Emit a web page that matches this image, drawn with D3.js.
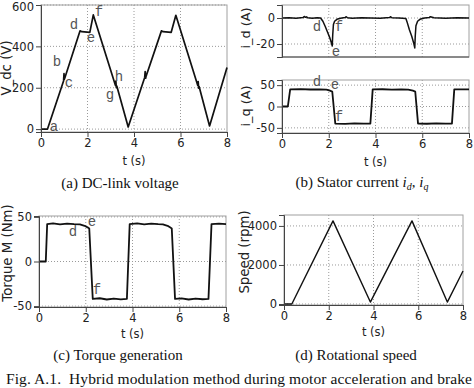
<!DOCTYPE html>
<html><head><meta charset="utf-8">
<script src="https://cdn.jsdelivr.net/npm/d3@7"></script>
<style>body{margin:0;background:#fff}svg{display:block}</style>
</head><body>
<script>
// ---- data ----
const vdcT = [0,0.28,0.97,0.99,1.0,1.02,1.68,1.75,2.1,2.25,3.2,3.22,3.24,3.26,3.75,4.46,4.48,4.5,4.52,5.18,5.25,5.6,5.8,6.74,6.76,6.78,6.8,7.25,8.0];
const vdcV = [0,0,233,268,240,246,475,471,468,552,212,232,200,208,10,250,278,246,256,475,471,468,550,212,230,198,206,15,298];

const idT = [0,0.3,0.6,0.9,0.95,1.0,1.05,1.1,1.3,1.5,1.65,1.75,1.85,1.95,2.05,2.12,2.15,2.17,2.2,2.25,2.35,2.5,2.7,2.75,2.8,3.0,3.4,3.8,4.2,4.6,4.65,4.7,5.0,5.3,5.35,5.45,5.55,5.63,5.68,5.7,5.73,5.8,5.9,6.1,6.3,6.35,6.5,7.0,7.5,8.0];
const idV = [0,0.2,-0.2,0.3,1.2,0.5,0.9,0.1,-0.2,0.2,0,-2.5,-6.5,-11,-15.5,-19.5,-21.5,-13,-5,-2.5,-1,-0.2,0.3,1.0,0.2,-0.2,0.2,0,-0.2,0.3,1.0,0.2,0,-0.3,-3,-9,-14,-19,-23,-14,-6,-2.5,-1,0,0.4,1.0,0.2,-0.2,0.1,0];

const iqT = [0,0.25,0.35,0.8,1.2,1.6,1.9,2.05,2.15,2.28,2.7,3.1,3.5,3.78,3.88,4.3,4.7,5.1,5.4,5.6,5.7,5.82,6.2,6.6,7.0,7.27,7.37,7.7,8.0];
const iqV = [0,0,40,40.5,39.8,40.3,39.5,37,35,-40,-40.5,-39.7,-40.3,-40,40,40.4,39.7,40.2,39.5,37,35,-40,-40.4,-39.6,-40.3,-40,40,40.3,40];

const tqT = [0,0.29,0.35,0.6,0.9,1.2,1.5,1.75,1.95,2.1,2.15,2.3,2.6,2.9,3.2,3.5,3.76,3.88,4.2,4.5,4.8,5.1,5.3,5.5,5.62,5.68,5.82,6.1,6.4,6.7,7.0,7.25,7.38,7.7,8.0];
const tqV = [0,0,42,42.8,41.6,42.5,41.8,41.5,40,38,37,-42,-41.2,-42.6,-41.5,-42.4,-42,42,42.7,41.6,42.5,41.8,41.5,40,38,37,-42,-41.3,-42.6,-41.5,-42.3,-42,42,42.5,42];

const spT = [0,0.35,2.19,3.86,5.72,7.3,8.0];
const spV = [0,0,4260,100,4260,100,1690];

const tTicks = [0,2,4,6,8];
const vdcTicks = [0,200,400,600];
const idTicks = [-20,0];
const iqTicks = [-50,0,50];
const tqTicks = [-50,0,50];
const spTicks = [0,2000,4000];

// ---- drawing ----
const svg = d3.select("body").append("svg").attr("width",474).attr("height",388);
const SANS = "DejaVu Sans, sans-serif";
const SERIF = "Liberation Serif, Times New Roman, serif";
const MONO = "Liberation Mono, monospace";
const fmt = d => String(d);   // plain hyphen-minus as in the original

function panel(o){
  const x = d3.scaleLinear().domain([0,8]).range([o.x0,o.x1]);
  const y = d3.scaleLinear().domain(o.yd).range([o.y1,o.y0]);
  const g = svg.append("g");
  g.selectAll(".gx").data(tTicks.filter(d=>d>0&&d<8)).join("line")
    .attr("x1",d=>x(d)).attr("x2",d=>x(d)).attr("y1",o.y0).attr("y2",o.y1)
    .attr("stroke","#9a9a9a").attr("stroke-width",1).attr("stroke-dasharray","1,2");
  g.selectAll(".gy").data(o.yt).join("line")
    .attr("x1",o.x0).attr("x2",o.x1).attr("y1",d=>y(d)).attr("y2",d=>y(d))
    .attr("stroke","#9a9a9a").attr("stroke-width",1).attr("stroke-dasharray","1,2");
  g.append("rect").attr("x",o.x0).attr("y",o.y0).attr("width",o.x1-o.x0).attr("height",o.y1-o.y0)
    .attr("fill","none").attr("stroke","#a0a0a0").attr("stroke-width",1);
  const data = o.t.map((t,i)=>[t,o.v[i]]);
  g.append("path").datum(data)
    .attr("d",d3.line().x(d=>x(d[0])).y(d=>y(d[1])))
    .attr("fill","none").attr("stroke","#111").attr("stroke-width",o.sw||1.7).attr("stroke-linejoin","round");
  const ay = g.append("g").attr("transform",`translate(${o.x0},0)`)
    .call(d3.axisLeft(y).tickValues(o.yt).tickSize(5).tickPadding(2).tickFormat(fmt));
  ay.select(".domain").attr("stroke","#444");
  ay.selectAll("line").attr("stroke","#444");
  ay.selectAll("text").attr("font-family",SANS).attr("font-size",o.fs).attr("fill","#222")
    .attr("dy",d=>(o.topdy && d===o.yt[o.yt.length-1]) ? o.topdy : "0.32em");
  if(o.xaxis){
    const ax = g.append("g").attr("transform",`translate(0,${o.y1})`)
      .call(d3.axisBottom(x).tickValues(tTicks).tickSize(5).tickPadding(2).tickFormat(fmt));
    ax.select(".domain").attr("stroke","#444");
    ax.selectAll("line").attr("stroke","#444");
    ax.selectAll("text").attr("font-family",SANS).attr("font-size",o.fs).attr("fill","#222");
    g.append("text").attr("x",(o.x0+o.x1)/2).attr("y",o.y1+o.xlab)
      .attr("text-anchor","middle").attr("font-family",SANS).attr("font-size",o.fs).attr("fill","#222").text("t (s)");
  } else {
    g.append("line").attr("x1",o.x0).attr("x2",o.x1).attr("y1",o.y1).attr("y2",o.y1).attr("stroke","#444");
  }
  g.append("text").attr("transform",`translate(${o.ylx},${o.yly}) rotate(-90)`)
    .attr("text-anchor","middle").attr("font-family",SANS).attr("font-size",o.yfs||13.3).attr("fill","#222").text(o.ylab);
  (o.ann||[]).forEach(a=>{
    g.append("text").attr("x",a[1]).attr("y",a[2]).attr("text-anchor","middle").attr("dominant-baseline","central")
      .attr("font-family",MONO).attr("font-size",14).attr("fill","#555").text(a[0]);
  });
}

panel({x0:41,x1:227,y0:5,y1:132,yd:[-14,600],yt:vdcTicks,t:vdcT,v:vdcV,fs:11.5,xaxis:true,xlab:33,
  ylab:"V_dc (V)",ylx:11,yly:68,topdy:"0.45em",
  ann:[["a",54,127],["b",57,62],["c",69,83],["d",74,25],["e",91,38],["f",99,12],["g",110,95],["h",119,77]]});
panel({x0:282,x1:469,y0:5,y1:57,yd:[-30,10],yt:idTicks,t:idT,v:idV,fs:11.5,xaxis:false,
  ylab:"i_d (A)",ylx:250,yly:28,yfs:12.8,sw:1.5,
  ann:[["d",317,27],["f",339,27],["e",336,52]]});
panel({x0:282,x1:469,y0:80,y1:133,yd:[-62,62],yt:iqTicks,t:iqT,v:iqV,fs:11.5,xaxis:true,xlab:33,
  ylab:"i_q (A)",ylx:250,yly:106,yfs:12.8,sw:1.8,
  ann:[["d",317,82],["e",335,85],["f",339,117]]});
panel({x0:39,x1:226,y0:216,y1:307,yd:[-51,51],yt:tqTicks,t:tqT,v:tqV,fs:11.5,xaxis:true,xlab:31,
  ylab:"Torque M (Nm)",ylx:12,yly:253,sw:1.8,
  ann:[["e",92,222],["d",73,232],["f",97,290]]});
panel({x0:284,x1:463,y0:215,y1:305,yd:[-50,4560],yt:spTicks,t:spT,v:spV,fs:11.5,xaxis:true,xlab:31,
  ylab:"Speed (rpm)",ylx:249,yly:252,sw:1.4});

function cap(x,y,txt){
  return svg.append("text").attr("x",x).attr("y",y).attr("text-anchor","middle")
    .attr("font-family",SERIF).attr("font-size",15).attr("fill","#111").text(txt);
}
cap(120,188,"(a) DC-link voltage");
const cb = svg.append("text").attr("x",362).attr("y",187).attr("text-anchor","middle")
  .attr("font-family",SERIF).attr("font-size",15).attr("fill","#111");
cb.append("tspan").text("(b) Stator current ");
cb.append("tspan").attr("font-style","italic").text("i");
cb.append("tspan").attr("font-style","italic").attr("font-size",10).attr("dy",3).text("d");
cb.append("tspan").attr("dy",-3).text(", ");
cb.append("tspan").attr("font-style","italic").text("i");
cb.append("tspan").attr("font-style","italic").attr("font-size",10).attr("dy",3).text("q");
cap(118,360,"(c) Torque generation");
cap(356,360,"(d) Rotational speed");
svg.append("text").attr("x",6).attr("y",384).attr("font-family",SERIF).attr("font-size",15.5).attr("fill","#111")
  .attr("xml:space","preserve").attr("textLength",466).attr("lengthAdjust","spacing")
  .text("Fig. A.1.  Hybrid modulation method during motor acceleration and brake");
</script>
</body></html>
